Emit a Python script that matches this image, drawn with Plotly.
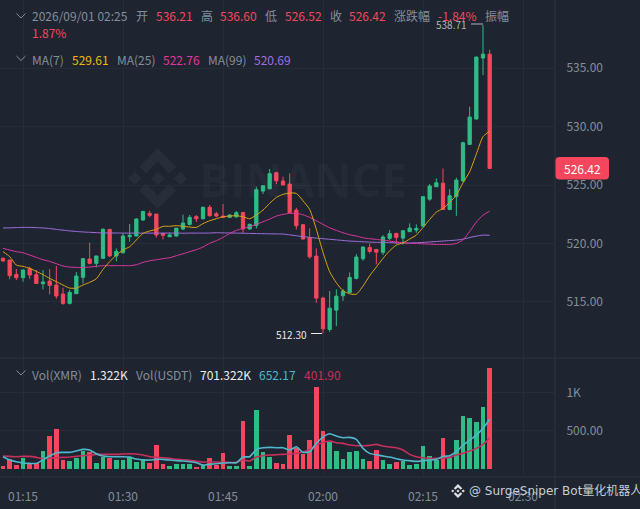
import pandas as pd
import plotly.graph_objects as go

# ---------- data ----------
START = "2026-09-01 01:12"
opens = [518.72, 518.57, 517.34, 517.06, 517.83, 517.32, 516.55, 516.77, 516.43, 515.66,
         514.86, 515.69, 517.09, 518.66, 518.29, 518.72, 521.20, 518.92, 519.20, 520.57,
         520.63, 522.00, 522.57, 522.51, 520.86, 520.57, 520.63, 521.23, 521.63, 522.29,
         522.11, 523.09, 522.54, 522.34, 522.23, 522.28, 522.65, 521.23, 521.54, 524.48,
         524.68, 526.05, 525.34, 525.08, 522.85, 521.60, 520.48, 518.91, 515.31, 512.63,
         514.28, 515.51, 515.80, 517.00, 518.68, 519.65, 519.48, 519.23, 520.43, 520.85,
         520.45, 521.00, 521.14, 521.48, 523.79, 524.85, 525.16, 522.91, 524.00, 525.34,
         528.48, 530.65, 535.88, 536.21]
closes = [518.49, 517.23, 517.06, 517.72, 517.29, 516.57, 516.69, 516.40, 515.49, 514.86,
          515.80, 517.20, 518.69, 518.29, 518.92, 521.20, 518.92, 519.32, 520.63, 520.69,
          522.09, 522.74, 522.40, 520.72, 520.69, 520.72, 521.31, 521.74, 522.23, 522.11,
          523.09, 522.37, 522.34, 522.23, 522.43, 522.63, 521.23, 521.63, 524.60, 524.94,
          525.97, 525.37, 525.00, 522.65, 521.51, 520.37, 518.85, 515.31, 512.68, 514.45,
          515.48, 515.91, 517.08, 518.83, 519.68, 519.31, 519.25, 520.54, 520.83, 520.51,
          521.08, 521.31, 521.28, 524.00, 524.91, 525.19, 522.91, 524.08, 525.42, 528.62,
          530.82, 535.96, 536.21, 526.42]
highs = [518.80, 518.57, 517.80, 517.77, 518.00, 517.72, 517.72, 517.80, 518.06, 516.20,
         516.00, 517.54, 518.72, 520.06, 518.92, 521.29, 521.23, 519.57, 520.86, 521.66,
         522.14, 522.77, 522.80, 522.51, 520.86, 520.94, 521.31, 522.46, 522.43, 522.43,
         523.14, 523.29, 522.71, 523.37, 522.51, 522.77, 522.65, 521.69, 524.85, 525.00,
         526.37, 526.14, 525.71, 526.00, 523.05, 521.63, 521.28, 519.57, 515.43, 515.91,
         516.05, 516.08, 517.51, 519.08, 519.77, 520.00, 519.48, 520.71, 521.14, 520.91,
         521.14, 521.71, 521.63, 524.05, 525.08, 525.56, 526.42, 524.65, 525.62, 528.71,
         531.71, 536.00, 538.71, 536.60]
lows = [518.43, 516.92, 516.86, 516.72, 516.94, 516.57, 516.06, 515.63, 515.26, 514.74,
        514.77, 515.66, 516.57, 518.20, 517.94, 518.69, 518.86, 518.46, 519.14, 520.14,
        520.60, 521.94, 522.23, 520.49, 520.34, 520.55, 520.57, 521.14, 521.52, 521.83,
        522.06, 522.29, 522.23, 522.23, 522.17, 522.17, 520.91, 521.20, 521.28, 524.23,
        524.63, 525.08, 525.00, 522.57, 521.20, 520.34, 518.68, 514.91, 512.30, 512.43,
        512.91, 515.08, 515.77, 516.91, 518.51, 519.14, 518.20, 519.00, 520.28, 519.97,
        519.88, 521.00, 520.91, 521.43, 523.65, 524.85, 522.85, 522.85, 522.36, 525.28,
        528.48, 530.62, 534.42, 526.42]
ma7 = [519.29, 518.86, 518.14, 518.03, 517.86, 517.60, 517.32, 517.00, 516.72, 516.43,
       516.17, 516.17, 516.43, 516.66, 516.97, 517.77, 518.43, 519.00, 519.43, 519.71,
       520.29, 520.86, 521.06, 521.20, 521.46, 521.46, 521.52, 521.46, 521.40, 521.37,
       521.69, 521.94, 522.11, 522.28, 522.34, 522.37, 522.28, 522.11, 522.43, 522.85,
       523.43, 523.94, 524.20, 524.31, 524.28, 523.65, 522.91, 521.20, 519.23, 517.57,
       516.63, 515.94, 515.68, 515.65, 516.34, 517.23, 517.97, 518.71, 519.37, 519.85,
       520.05, 520.37, 520.71, 521.36, 522.05, 522.68, 522.99, 523.51, 524.14, 525.19,
       526.14, 527.65, 529.14, 529.61]
ma25 = [519.57, 519.43, 519.29, 519.20, 519.00, 518.80, 518.60, 518.46, 518.26, 518.06,
        517.97, 517.94, 517.94, 517.97, 518.03, 518.09, 518.09, 518.09, 518.09, 518.09,
        518.17, 518.37, 518.51, 518.60, 518.69, 518.77, 518.94, 519.11, 519.29, 519.46,
        519.69, 520.00, 520.23, 520.51, 520.85, 521.11, 521.28, 521.43, 521.63, 521.85,
        522.08, 522.34, 522.48, 522.57, 522.57, 522.45, 522.23, 521.94, 521.63, 521.34,
        521.11, 520.91, 520.74, 520.63, 520.48, 520.40, 520.34, 520.28, 520.20, 520.11,
        520.05, 520.00, 520.00, 519.96, 519.94, 519.91, 519.91, 519.91, 519.99, 520.31,
        521.02, 521.82, 522.42, 522.76]
ma99 = [521.32, 521.33, 521.35, 521.37, 521.37, 521.35, 521.32, 521.27, 521.20, 521.13,
        521.07, 521.02, 520.98, 520.95, 520.92, 520.90, 520.89, 520.89, 520.88, 520.88,
        520.88, 520.88, 520.88, 520.88, 520.88, 520.88, 520.88, 520.87, 520.88, 520.88,
        520.88, 520.89, 520.91, 520.90, 520.89, 520.88, 520.87, 520.85, 520.84, 520.83,
        520.82, 520.81, 520.80, 520.73, 520.65, 520.58, 520.51, 520.45, 520.40, 520.35,
        520.30, 520.25, 520.20, 520.17, 520.14, 520.11, 520.09, 520.08, 520.06, 520.04,
        520.03, 520.03, 520.05, 520.08, 520.12, 520.16, 520.20, 520.24, 520.28, 520.36,
        520.50, 520.62, 520.71, 520.69]
volumes = [40, 127, 48, 145, 61, 70, 232, 430, 526, 118,
           105, 136, 237, 224, 70, 158, 145, 110, 114, 158,
           88, 123, 79, 311, 61, 39, 57, 57, 61, 26,
           48, 136, 48, 202, 35, 35, 627, 35, 776, 224,
           154, 75, 66, 439, 268, 193, 377, 1070, 496, 346,
           237, 127, 219, 228, 127, 105, 246, 114, 57, 92,
           101, 53, 57, 294, 167, 110, 399, 136, 382, 689,
           667, 614, 811, 1322]
vol_ma_a = [158, 114, 92, 75, 70, 70, 118, 167, 211, 215,
            215, 232, 254, 246, 197, 167, 158, 158, 158, 154,
            127, 114, 114, 123, 123, 114, 105, 101, 92, 79,
            48, 57, 66, 75, 79, 79, 154, 158, 254, 276,
            281, 276, 276, 246, 289, 215, 224, 333, 417, 461,
            430, 408, 412, 386, 268, 202, 184, 167, 154, 132,
            114, 105, 97, 105, 114, 123, 162, 171, 224, 311,
            377, 443, 531, 652]
vol_ma_b = [167, 162, 158, 162, 162, 149, 132, 140, 145, 149,
            154, 162, 171, 180, 189, 189, 189, 189, 193, 197,
            193, 180, 158, 149, 145, 136, 123, 118, 110, 97,
            88, 88, 88, 83, 83, 83, 114, 101, 154, 171,
            180, 184, 189, 193, 202, 219, 246, 320, 346, 364,
            342, 333, 311, 303, 303, 307, 320, 298, 285, 276,
            246, 189, 158, 145, 136, 136, 140, 149, 180, 202,
            232, 268, 320, 402]
price_ticks = [515, 520, 525, 530, 535]
price_tick_labels = ["515.00", "520.00", "525.00", "530.00", "535.00"]
vol_ticks = [500, 1000]
vol_tick_labels = ["500.00", "1K"]

# ---------- style ----------
W, H = 640, 509
BG = "#1e2530"
GRID = "#262d38"
SEP = "#2c333f"
GREEN = "#2ebd85"
RED = "#f6465d"
GRAY = "#848e9c"
GOLD = "#f0b90b"
PINK = "#e0359f"
PURPLE = "#a06ee0"
BLUE = "#4fb8cc"
CRIMSON = "#c92f5c"
CJK = "Noto Sans CJK SC, Noto Sans, sans-serif"

PX_L, PX_R = 0, 555
PANE1 = (0, 358)
PANE2 = (358, 477)


def px(x):
    return x / W


def py(y):
    return 1 - y / H


times = pd.date_range(START, periods=len(opens), freq="min")
vol_colors = [GREEN if c >= o else RED for o, c in zip(opens, closes)]

fig = go.Figure()
fig.add_trace(go.Candlestick(
    x=times, open=opens, high=highs, low=lows, close=closes,
    increasing=dict(line=dict(color=GREEN, width=1), fillcolor=GREEN),
    decreasing=dict(line=dict(color=RED, width=1), fillcolor=RED),
    whiskerwidth=0, xaxis="x", yaxis="y", hoverinfo="skip"))
for series, color in ((ma99, PURPLE), (ma25, PINK), (ma7, "#dca30f")):
    fig.add_trace(go.Scatter(x=times, y=series, mode="lines", xaxis="x", yaxis="y",
                             line=dict(color=color, width=1, shape="spline", smoothing=0.6),
                             hoverinfo="skip"))
fig.add_trace(go.Bar(x=times, y=volumes, marker=dict(color=vol_colors, line=dict(width=0)),
                     width=60000 * 0.7, xaxis="x2", yaxis="y2", hoverinfo="skip"))
for series, color in ((vol_ma_b, CRIMSON), (vol_ma_a, BLUE)):
    fig.add_trace(go.Scatter(x=times, y=series, mode="lines", xaxis="x2", yaxis="y2",
                             line=dict(color=color, width=1.6, shape="spline", smoothing=0.5),
                             hoverinfo="skip"))

# ---------- decoration helpers ----------
shapes, annotations = [], []


def text(x, y, s, color=GRAY, size=12, family=CJK, anchor="left"):
    annotations.append(dict(xref="paper", yref="paper", x=px(x), y=py(y), text=s, showarrow=False,
                            xanchor=anchor, yanchor="middle", xshift=0, yshift=0, borderpad=0,
                            font=dict(color=color, size=size, family=family)))


def line(x0, y0, x1, y1, color=SEP, width=1, layer="below"):
    shapes.append(dict(type="line", xref="paper", yref="paper", x0=px(x0), y0=py(y0), x1=px(x1),
                       y1=py(y1), line=dict(color=color, width=width), layer=layer))


def poly(points, color, layer="below"):
    d = "M" + " L".join(f"{px(a):.5f},{py(b):.5f}" for a, b in points) + " Z"
    shapes.append(dict(type="path", xref="paper", yref="paper", path=d, fillcolor=color,
                       line=dict(width=0), layer=layer))


def logo(cx, cy, half, color, layer):
    s = half / 64
    top = [(0, 36.07), (25.27, 10.8), (39.97, 25.5), (0, 65.47), (-39.97, 25.5), (-25.27, 10.8)]
    mid = [(0, 14.9), (14.9, 0), (0, -14.9), (-14.9, 0)]
    left = [(-64, 0), (-49.3, 14.7), (-34.6, 0), (-49.3, -14.7)]
    for shp in (top, [(a, -b) for a, b in top], mid, left, [(-a, b) for a, b in left]):
        poly([(cx + a * s, cy - b * s) for a, b in shp], color, layer)


def chevron(x, y):
    d = f"M{px(x - 4.5):.5f},{py(y - 2.5):.5f} L{px(x):.5f},{py(y + 2):.5f} L{px(x + 4.5):.5f},{py(y - 2.5):.5f}"
    shapes.append(dict(type="path", xref="paper", yref="paper", path=d,
                       line=dict(color=GRAY, width=1), layer="above"))


# separators
line(555, 0, 555, H)
line(0, 358, W, 358)
line(0, 477, W, 477)

# watermark
logo(157.7, 178.5, 29.5, "#272e39", "below")
text(198, 179, "BINANCE", color="rgba(255,255,255,0.035)", size=46,
     family="Open Sans, Noto Sans, sans-serif")
annotations[-1]["font"]["weight"] = 700

# header
chevron(21, 16)
chevron(21, 58.5)
chevron(21, 373)
for x, s, c in ((31, "2026/09/01 02:25", GRAY), (135, "开", GRAY), (155, "536.21", RED), (200, "高", GRAY),
                (219, "536.60", RED), (264, "低", GRAY), (284, "526.52", RED), (329, "收", GRAY),
                (348, "526.42", RED), (393, "涨跌幅", GRAY), (437, "-1.84%", RED), (484, "振幅", GRAY)):
    text(x, 16, s, c)
text(31, 32.5, "1.87%", RED)
for x, s, c in ((31, "MA(7)", GRAY), (71, "529.61", GOLD), (116, "MA(25)", GRAY), (162, "522.76", PINK),
                (207, "MA(99)", GRAY), (253, "520.69", PURPLE)):
    text(x, 59, s, c)
for x, s, c in ((31, "Vol(XMR)", GRAY), (89, "1.322K", "#eaecef"), (135, "Vol(USDT)", GRAY),
                (199, "701.322K", "#eaecef"), (258, "652.17", BLUE), (303, "401.90", CRIMSON)):
    text(x, 374, s, c)

# extreme markers
text(468, 24.5, "538.71", "#aeb4bc", 10, anchor="right")
line(471, 24, 483, 24, "#aeb4bc", 1, "above")
text(308, 334.5, "512.30", "#e6e8ea", 10, anchor="right")
line(311, 333.5, 322, 333.5, "#e6e8ea", 1, "above")

# last price tag
x0, x1, y0, y1, r = 555.5, 609, 157, 179.5, 4
tag = (f"M{px(x0 + r):.5f},{py(y0):.5f} L{px(x1 - r):.5f},{py(y0):.5f} "
       f"Q{px(x1):.5f},{py(y0):.5f} {px(x1):.5f},{py(y0 + r):.5f} L{px(x1):.5f},{py(y1 - r):.5f} "
       f"Q{px(x1):.5f},{py(y1):.5f} {px(x1 - r):.5f},{py(y1):.5f} L{px(x0 + r):.5f},{py(y1):.5f} "
       f"Q{px(x0):.5f},{py(y1):.5f} {px(x0):.5f},{py(y1 - r):.5f} L{px(x0):.5f},{py(y0 + r):.5f} "
       f"Q{px(x0):.5f},{py(y0):.5f} {px(x0 + r):.5f},{py(y0):.5f} Z")
shapes.append(dict(type="path", xref="paper", yref="paper", path=tag, fillcolor=RED,
                   line=dict(width=0), layer="above"))
text(582, 168.5, "526.42", "#ffffff", 12, anchor="center")

# footer watermark
logo(458, 491, 6.8, "#dfe2e6", "above")
text(468, 491, "@ SurgeSniper Bot量化机器人", "#c9cdd3", 12,
     family="DejaVu Sans, Noto Sans CJK SC, sans-serif")

axis_font = dict(color=GRAY, size=12, family=CJK)
x_range = ["2026-09-01 01:11:33", "2026-09-01 02:34:48"]
x_common = dict(range=x_range, type="date", showgrid=True, gridcolor=GRID, gridwidth=1, zeroline=False,
                tick0="2026-09-01 01:15", dtick=900000, showline=False, rangeslider=dict(visible=False),
                domain=[px(PX_L), px(PX_R)], tickformat="%H:%M", tickfont=axis_font)

fig.update_layout(
    width=W, height=H, autosize=False,
    margin=dict(l=0, r=0, t=0, b=0, pad=0),
    paper_bgcolor=BG, plot_bgcolor=BG,
    showlegend=False, hovermode=False, dragmode=False, bargap=0,
    font=dict(family=CJK, color=GRAY, size=12),
    xaxis=dict(anchor="y", showticklabels=False, ticks="", **x_common),
    xaxis2=dict(anchor="y2", showticklabels=True, ticks="outside", ticklen=9, tickcolor="rgba(0,0,0,0)",
                **x_common),
    yaxis=dict(domain=[py(PANE1[1]), py(PANE1[0])], range=[510.18, 540.85], side="right", anchor="x",
               tickmode="array", tickvals=price_ticks, ticktext=price_tick_labels, showgrid=True,
               gridcolor=GRID, zeroline=False, showline=False, ticks="outside", ticklen=8,
               tickcolor="rgba(0,0,0,0)", tickfont=axis_font),
    yaxis2=dict(domain=[py(PANE2[1]), py(PANE2[0])], range=[-109, 1457], side="right", anchor="x2",
                tickmode="array", tickvals=vol_ticks, ticktext=vol_tick_labels, showgrid=True,
                gridcolor=GRID, zeroline=False, showline=False, ticks="outside", ticklen=8,
                tickcolor="rgba(0,0,0,0)", tickfont=axis_font),
    shapes=shapes, annotations=annotations,
)

fig.write_html("out.html", config=dict(displayModeBar=False, staticPlot=True),
               post_script="document.body.style.margin='0';document.body.style.overflow='hidden';")
